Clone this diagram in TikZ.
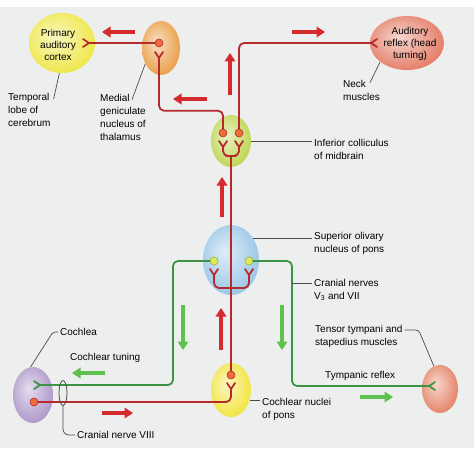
\documentclass[tikz,border=0pt]{standalone}
\usepackage{fontspec}
\setmainfont{Liberation Sans}
\usetikzlibrary{arrows.meta,shapes.geometric}
\definecolor{bgGray}{HTML}{EDEFEF}
\definecolor{nerveRed}{HTML}{B52A2C}
\definecolor{nerveGreen}{HTML}{3E9444}
\definecolor{flowRed}{HTML}{D62B2E}
\definecolor{flowGreen}{HTML}{5DC04F}
\definecolor{leaderGray}{HTML}{4A4A4A}
\definecolor{cellOrange}{HTML}{F26B3A}
\definecolor{sonDot}{HTML}{DDEB5A}
\definecolor{sonDotEdge}{HTML}{9DB33A}
\definecolor{cortexYellow}{HTML}{EDE53A}
\definecolor{mgnOrange}{HTML}{E8973A}
\definecolor{reflexSalmon}{HTML}{E2735B}
\definecolor{icGreen}{HTML}{B9D245}
\definecolor{sonBlue}{HTML}{93C2E5}
\definecolor{cnYellow}{HTML}{F1E232}
\definecolor{cochleaPurple}{HTML}{A88FC6}
\definecolor{tympSalmon}{HTML}{E27A5C}
\colorlet{glowIn}{white}
\colorlet{glowOut}{gray}
\pgfdeclareradialshading[glowIn,glowOut]{glow}{\pgfpoint{-6bp}{6bp}}{color(0bp)=(glowIn); color(32bp)=(glowOut); color(50bp)=(glowOut)}
\newcommand{\diagfont}{\fontsize{10}{13}\selectfont}
\tikzstyle{afferent edge} = [draw=nerveRed, line width=1.8pt, line cap=round, line join=round]
\tikzstyle{efferent edge} = [draw=nerveGreen, line width=1.8pt, line cap=round, line join=round]

\begin{document}
\begin{tikzpicture}
[x=1pt,y=-1pt,
nerveBend/.style={rounded corners=5pt},%
nucleus/.style={shape=ellipse,inner sep=0pt,shade,shading=glow},
cell/.style={shape=circle,inner sep=0pt,minimum size=8pt,fill=cellOrange,draw=nerveRed,line width=0.6pt},
son cell/.style={shape=circle,inner sep=0pt,minimum size=8pt,fill=sonDot,draw=sonDotEdge,line width=0.6pt},
tag/.style={anchor=west,align=left,inner sep=0pt,font=\diagfont},
leader/.style={draw=leaderGray,line width=0.7pt},
red flow/.style={draw=flowRed,line width=3.6pt,-{Triangle[width=10.5pt,length=8.5pt]}},
green flow/.style={draw=flowGreen,line width=3.6pt,-{Triangle[width=10.5pt,length=8.5pt]}}]

\useasboundingbox (0,0) rectangle (474,460);
\fill[bgGray] (0,7) rectangle (474,448);

%% nuclei and muscles
\foreach \nodename/\x/\y/\w/\h/\col in {
cortex/62/43/66/60/cortexYellow, mgn/161/48/38/54/mgnOrange, reflex/407/43/74/54/reflexSalmon,
ic/231/141/40/52/icGreen, son/231/260/56/70/sonBlue, cn/231/390/40/54/cnYellow,
cochlea/33/395/40/56/cochleaPurple, tymp/440/389/36/48/tympSalmon}
{
\colorlet{glowIn}{\col!30!white}
\colorlet{glowOut}{\col}
\node (\nodename) at (\x,\y) [nucleus,minimum width=\w pt,minimum height=\h pt] {};
}
\node (cortexText) at (58,45) [align=center,inner sep=0pt,font=\fontsize{10}{12}\selectfont] {Primary\\auditory\\cortex};
\node (reflexText) at (410,44) [align=center,inner sep=0pt,font=\fontsize{10}{12}\selectfont] {Auditory\\reflex (head\\turning)};

%% cell bodies
\foreach \nodename/\x/\y in {mgnDot/159/43, icL/223/133, icR/239/133, cnDot/231/375, cochDot/34/402}
{
\node (\nodename) at (\x,\y) [cell] {};
}
\foreach \nodename/\x/\y in {sonL/214/261, sonR/249/261}
{
\node (\nodename) at (\x,\y) [son cell] {};
}

%% nerve endings
\foreach \forkname/\x/\y/\turn in {cortexFork/89/43/90, mgnFork/159/58/0, reflexFork/371/43/-90,
icForkL/223/147/0, icForkR/239/147/0, sonForkL/214/275/0, sonForkR/249/275/0, cnFork/231/389/0}
{
\coordinate (\forkname) at (\x,\y);
\draw[afferent edge,rotate around={\turn:(\forkname)}] (\x-4,\y-6) -- (\forkname) -- (\x+4,\y-6);
}
\foreach \forkname/\x/\y/\turn in {cochFork/40/385/90, tympFork/429/386/-90}
{
\coordinate (\forkname) at (\x,\y);
\draw[efferent edge,rotate around={\turn:(\forkname)}] (\x-4,\y-6) -- (\forkname) -- (\x+4,\y-6);
}
\coordinate (icJoin) at (231,156);
\coordinate (sonJoin) at (231,288);

%% afferent pathway
\draw[afferent edge,nerveBend] (cochDot.east) -| (cnFork);
\draw[afferent edge] (cnDot.north) -- (icJoin);
\draw[afferent edge,nerveBend] (icForkL) |- (icJoin) -| (icForkR);
\draw[afferent edge,nerveBend] (sonForkL) |- (sonJoin) -| (sonForkR);
\draw[afferent edge,nerveBend] (icL.north) -- ++(0,-18) -| (mgnFork);
\draw[afferent edge,nerveBend] (icR.north) |- (reflexFork);
\draw[afferent edge] (mgnDot.west) -- (cortexFork);

%% efferent pathway
\draw[efferent edge,nerveBend] (sonL.west) -| (173,300) |- (cochFork);
\draw[efferent edge,nerveBend] (sonR.east) -| (292,300) |- (tympFork);

%% flow arrows
\foreach \x/\y/\dx/\dy in {135/32/-33/0, 292/32/33/0, 230/95/0/-42, 207/99/-34/0, 222/217/0/-40, 221/350/0/-42, 102/413/31/0}
{
\draw[red flow] (\x,\y) -- ++(\dx,\dy);
}
\foreach \x/\y/\dx/\dy in {183/305/0/45, 282/305/0/45, 105/373/-33/0, 360/397/33/0}
{
\draw[green flow] (\x,\y) -- ++(\dx,\dy);
}

%% labels
\node (temporal) at (8,110) [tag] {Temporal\\lobe of\\cerebrum};
\node (medial) at (100,117) [tag] {Medial\\geniculate\\nucleus of\\thalamus};
\node (neck) at (343,90) [tag] {Neck\\muscles};
\node (icLabel) at (314,149) [tag] {Inferior colliculus\\of midbrain};
\node (sonLabel) at (314,243.5) [tag] {Superior olivary\\nucleus of pons};
\node (cranLabel) at (314,290) [tag] {Cranial nerves\\V\textsubscript{3} and VII};
\node (tensorLabel) at (315,336) [tag] {Tensor tympani and\\stapedius muscles};
\node (cochleaLabel) at (60,332) [tag] {Cochlea};
\node (tuning) at (70,358) [tag] {Cochlear tuning};
\node (tympanic) at (325,376) [tag] {Tympanic reflex};
\node (cnLabel) at (262,409.5) [tag] {Cochlear nuclei\\of pons};
\node (cn8Label) at (77,435) [tag] {Cranial nerve VIII};
\node (cn8) at (63,393) [shape=ellipse,draw=leaderGray,line width=0.8pt,minimum width=8pt,minimum height=25pt,inner sep=0pt] {};

%% leader lines
\draw[leader] ([xshift=3pt,yshift=11pt]temporal.east) -- (cortex.265);
\draw[leader] ([xshift=32pt,yshift=-6pt]medial.north west) -- (mgn.225);
\draw[leader] ([xshift=27pt,yshift=-3pt]neck.north west) -- (reflex.215);
\draw[leader,shorten >=2pt] (ic.east) -- (ic.east -| icLabel.west);
\draw[leader,shorten >=2pt] (son.45) -- (son.45 -| sonLabel.west);
\draw[leader,shorten <=2pt] ([yshift=7pt]cranLabel.west) -- ++(-22,0);
\draw[leader,rounded corners=3pt] ([xshift=2pt,yshift=6pt]tensorLabel.east) -- ++(14,0) -- (tymp.105);
\draw[leader,rounded corners=2pt] ([xshift=-2pt]cochleaLabel.west) -- ++(-5,0) -- (cochlea.95);
\draw[leader,shorten >=2pt] (cn.-30) -- (cn.-30 -| cnLabel.west);
\draw[leader,rounded corners=6pt,shorten >=2pt] (cn8.south) |- (cn8Label.west);

\end{tikzpicture}
\end{document}
